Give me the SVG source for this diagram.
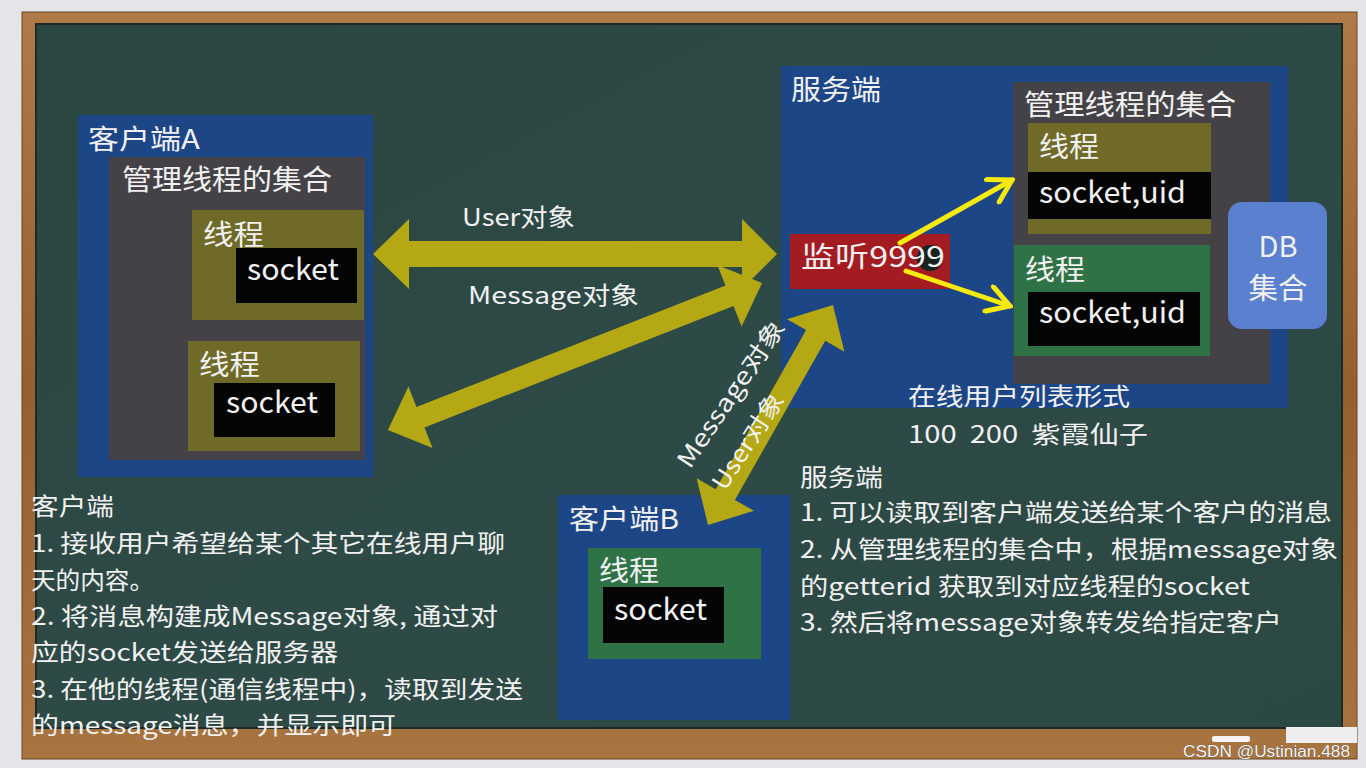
<svg xmlns="http://www.w3.org/2000/svg" width="1366" height="768" viewBox="0 0 1366 768">
<defs>
<style>
.t{font-family:'Noto Sans CJK SC','Noto Sans',sans-serif;fill:#f1f1f1;}
.blue{fill:#1d4687;}
.gray{fill:#444246;}
.olive{fill:#6f6a27;}
.green{fill:#2e7246;}
.black{fill:#050505;}
.big{fill:#b4a815;}
.thin{stroke:#f6e90c;stroke-width:5;fill:none;stroke-linecap:round;}
</style>
<linearGradient id="board" x1="0" y1="0" x2="1" y2="1">
<stop offset="0" stop-color="#2c4641"/>
<stop offset="0.5" stop-color="#2e4a46"/>
<stop offset="1" stop-color="#2c4843"/>
</linearGradient>
<linearGradient id="wood" x1="0" y1="0" x2="0" y2="1">
<stop offset="0" stop-color="#b07a48"/>
<stop offset="0.5" stop-color="#94602f"/>
<stop offset="1" stop-color="#a8743f"/>
</linearGradient>
<marker id="chev" viewBox="0 0 30 30" refX="27" refY="15" markerWidth="30" markerHeight="30" markerUnits="userSpaceOnUse" orient="auto">
<path d="M5,2 L27,15 L5,28" stroke="#f6e90c" stroke-width="5" fill="none" stroke-linecap="round" stroke-linejoin="miter"/>
</marker>
</defs>

<rect x="0" y="0" width="1366" height="768" fill="#e4e5e8"/>
<g id="chalkboard">
<rect x="22" y="12" width="1335" height="747" fill="url(#wood)"/>
<rect x="22" y="12" width="1335" height="747" fill="none" stroke="#6b4423" stroke-width="1"/>
<rect x="36" y="24" width="1306" height="704" fill="url(#board)" stroke="#1e2a26" stroke-width="2"/>
<rect x="1286" y="727" width="71" height="16" fill="#eeeeee"/>
<rect x="1212" y="736" width="38" height="6" rx="2" fill="#f4f4f4"/>
</g>

<g id="clientA">
<rect class="blue" x="78" y="115" width="295" height="362"/>
<text class="t" x="88" y="149" font-size="27" textLength="112" lengthAdjust="spacingAndGlyphs">客户端A</text>
<g id="clientA-threads">
<rect class="gray" x="109" y="157" width="256" height="303"/>
<text class="t" x="122" y="190" font-size="28" textLength="210" lengthAdjust="spacingAndGlyphs">管理线程的集合</text>
<g id="clientA-thread1">
<rect class="olive" x="192" y="210" width="172" height="110"/>
<text class="t" x="203" y="245" font-size="28" textLength="61" lengthAdjust="spacingAndGlyphs">线程</text>
<rect class="black" x="236" y="248" width="121" height="55"/>
<text class="t" x="247" y="280" font-size="30" textLength="92" lengthAdjust="spacingAndGlyphs">socket</text>
</g>
<g id="clientA-thread2">
<rect class="olive" x="188" y="341" width="172" height="110"/>
<text class="t" x="199" y="375" font-size="28" textLength="61" lengthAdjust="spacingAndGlyphs">线程</text>
<rect class="black" x="214" y="383" width="121" height="54"/>
<text class="t" x="226" y="413" font-size="30" textLength="92" lengthAdjust="spacingAndGlyphs">socket</text>
</g>
</g>
</g>

<g id="server">
<rect class="blue" x="781" y="66" width="507" height="342"/>
<text class="t" x="791" y="100" font-size="28" textLength="90" lengthAdjust="spacingAndGlyphs">服务端</text>
<g id="server-threads">
<rect class="gray" x="1013" y="82" width="257" height="302"/>
<text class="t" x="1024" y="115" font-size="28" textLength="212" lengthAdjust="spacingAndGlyphs">管理线程的集合</text>
<g id="server-thread1">
<rect class="olive" x="1028" y="123" width="183" height="111"/>
<text class="t" x="1039" y="157" font-size="28" textLength="60" lengthAdjust="spacingAndGlyphs">线程</text>
<rect class="black" x="1028" y="172" width="183" height="47"/>
<text class="t" x="1039" y="203" font-size="30" textLength="147" lengthAdjust="spacingAndGlyphs">socket,uid</text>
</g>
<g id="server-thread2">
<rect class="green" x="1014" y="245" width="196" height="111"/>
<text class="t" x="1025" y="280" font-size="28" textLength="60" lengthAdjust="spacingAndGlyphs">线程</text>
<rect class="black" x="1028" y="292" width="172" height="54"/>
<text class="t" x="1039" y="323" font-size="30" textLength="147" lengthAdjust="spacingAndGlyphs">socket,uid</text>
</g>
</g>
<g id="listen">
<rect x="790" y="234" width="160" height="55" fill="#a41c21"/>
<circle cx="930" cy="258" r="13" fill="#18221f"/>
<text class="t" x="801" y="267" font-size="28" textLength="144" lengthAdjust="spacingAndGlyphs">监听9999</text>
</g>
<text class="t" x="908" y="405" font-size="24" textLength="222" lengthAdjust="spacingAndGlyphs">在线用户列表形式</text>
<text class="t" x="908" y="443" font-size="24" style="white-space:pre" textLength="240" lengthAdjust="spacingAndGlyphs">100  200  紫霞仙子</text>
</g>

<g id="db">
<rect x="1228" y="202" width="99" height="127" rx="14" fill="#5b80cf"/>
<text class="t" x="1278" y="257" font-size="29" text-anchor="middle">DB</text>
<text class="t" x="1278" y="299" font-size="29" text-anchor="middle" textLength="59" lengthAdjust="spacingAndGlyphs">集合</text>
</g>

<g id="clientB">
<rect class="blue" x="558" y="495" width="232" height="225"/>
<text class="t" x="569" y="529" font-size="27" textLength="110" lengthAdjust="spacingAndGlyphs">客户端B</text>
<g id="clientB-thread">
<rect class="green" x="588" y="548" width="173" height="111"/>
<text class="t" x="599" y="581" font-size="28" textLength="60" lengthAdjust="spacingAndGlyphs">线程</text>
<rect class="black" x="603" y="587" width="121" height="56"/>
<text class="t" x="614" y="620" font-size="30" textLength="93" lengthAdjust="spacingAndGlyphs">socket</text>
</g>
</g>

<g id="connectors">
<polygon class="big" points="373,254 409,219 409,241 742,241 742,219 777,254 742,289 742,267 409,267 409,289"/>
<polygon class="big" transform="translate(575,356.5) rotate(-21.45)" points="-201,0 -166,-33 -166,-11 166,-11 166,-33 201,0 166,33 166,11 -166,11 -166,33"/>
<polygon class="big" transform="translate(770.5,415) rotate(-60.4)" points="-126.5,0 -91.5,-33 -91.5,-11 91.5,-11 91.5,-33 126.5,0 91.5,33 91.5,11 -91.5,11 -91.5,33"/>
<line class="thin" x1="900" y1="243" x2="1012" y2="180" marker-end="url(#chev)"/>
<line class="thin" x1="906" y1="271" x2="1010" y2="306" marker-end="url(#chev)"/>
</g>

<g id="labels">
<text class="t" x="462" y="226" font-size="24" textLength="113" lengthAdjust="spacingAndGlyphs">User对象</text>
<text class="t" x="468" y="304" font-size="24" textLength="171" lengthAdjust="spacingAndGlyphs">Message对象</text>
<text class="t" transform="translate(690,470) rotate(-56)" font-size="24" textLength="172" lengthAdjust="spacingAndGlyphs">Message对象</text>
<text class="t" transform="translate(725,492) rotate(-57)" font-size="24" textLength="110" lengthAdjust="spacingAndGlyphs">User对象</text>
</g>

<g id="client-notes">
<text class="t" x="31" y="515" font-size="24" textLength="83" lengthAdjust="spacingAndGlyphs">客户端</text>
<text class="t" x="31" y="552" font-size="24" textLength="474" lengthAdjust="spacingAndGlyphs">1. 接收用户希望给某个其它在线用户聊</text>
<text class="t" x="31" y="589" font-size="24" textLength="123" lengthAdjust="spacingAndGlyphs">天的内容。</text>
<text class="t" x="31" y="625" font-size="24" textLength="467" lengthAdjust="spacingAndGlyphs">2. 将消息构建成Message对象, 通过对</text>
<text class="t" x="31" y="661" font-size="24" textLength="307" lengthAdjust="spacingAndGlyphs">应的socket发送给服务器</text>
<text class="t" x="31" y="698" font-size="24" textLength="492" lengthAdjust="spacingAndGlyphs">3. 在他的线程(通信线程中)，读取到发送</text>
<text class="t" x="31" y="734" font-size="24" textLength="365" lengthAdjust="spacingAndGlyphs">的message消息，并显示即可</text>
</g>

<g id="server-notes">
<text class="t" x="800" y="486" font-size="24" textLength="83" lengthAdjust="spacingAndGlyphs">服务端</text>
<text class="t" x="800" y="521" font-size="24" textLength="532" lengthAdjust="spacingAndGlyphs">1. 可以读取到客户端发送给某个客户的消息</text>
<text class="t" x="800" y="558" font-size="24" textLength="538" lengthAdjust="spacingAndGlyphs">2. 从管理线程的集合中，根据message对象</text>
<text class="t" x="800" y="595" font-size="24" textLength="450" lengthAdjust="spacingAndGlyphs">的getterid 获取到对应线程的socket</text>
<text class="t" x="800" y="631" font-size="24" textLength="482" lengthAdjust="spacingAndGlyphs">3. 然后将message对象转发给指定客户</text>
</g>

<text x="1183" y="757" font-family="'Liberation Sans',sans-serif" font-size="16" fill="#f4f4f4" stroke="#4a4a4a" stroke-width="0.5" paint-order="stroke" textLength="167" lengthAdjust="spacingAndGlyphs">CSDN @Ustinian.488</text>
</svg>
